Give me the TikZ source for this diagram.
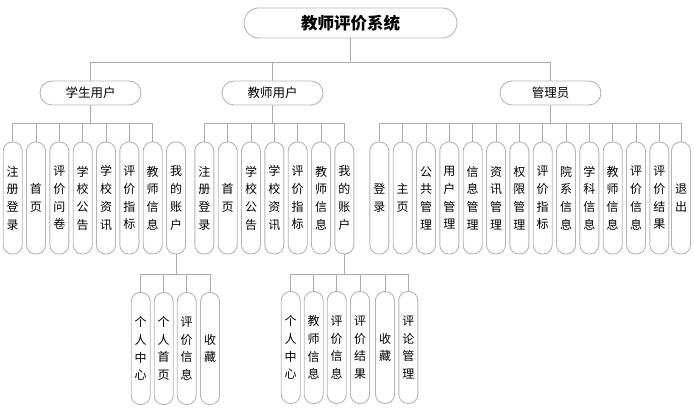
\documentclass[tikz,border=0pt]{standalone}
\usepackage{fontspec}
\setmainfont{Noto Sans CJK SC}
\usepackage{tikz}
\definecolor{linegray}{HTML}{ABABAB}
\definecolor{boxgray}{HTML}{B4B4B4}

\begin{document}
\begin{tikzpicture}[x=1pt,y=-1pt,
      rootbox/.style={rectangle,draw=boxgray,line width=0.9pt,rounded corners=15pt,
                  minimum width=213pt,minimum height=30pt,
                  font=\fontsize{16.5}{18}\selectfont\bfseries},
      rolebox/.style={rectangle,draw=boxgray,line width=0.9pt,rounded corners=12pt,
                  minimum width=101pt,minimum height=24pt,
                  font=\fontsize{12.5}{14}\selectfont},
      leaf/.style={rectangle,draw=boxgray,line width=0.9pt,rounded corners=9pt,
                  minimum width=19pt,minimum height=112pt,inner sep=0pt,
                  align=center,font=\fontsize{12}{17.7}\selectfont},
      link/.style={draw=linegray,line width=0.9pt}]
    \useasboundingbox (0,0) rectangle (694,411);
    %% ── Root and roles ───────────────────────────────────────
    \node[rootbox] (root) at (350.5,23)  {教师评价系统};
    \node[rolebox] (stu)  at (90.5,93)   {学生用户};
    \node[rolebox] (tea)  at (272.5,93)  {教师用户};
    \node[rolebox] (adm)  at (550.5,93)  {管理员};
    %% ── Student leaves ───────────────────────────────────────
    \node[leaf] (s1) at (12.7,198)  {注\\册\\登\\录};
    \node[leaf] (s2) at (36,198)    {首\\页};
    \node[leaf] (s3) at (59.3,198)  {评\\价\\问\\卷};
    \node[leaf] (s4) at (82.7,198)  {学\\校\\公\\告};
    \node[leaf] (s5) at (106,198)   {学\\校\\资\\讯};
    \node[leaf] (s6) at (129.3,198) {评\\价\\指\\标};
    \node[leaf] (s7) at (152.7,198) {教\\师\\信\\息};
    \node[leaf] (s8) at (176,198)   {我\\的\\账\\户};
    %% ── Teacher leaves ───────────────────────────────────────
    \node[leaf] (t1) at (204.3,198) {注\\册\\登\\录};
    \node[leaf] (t2) at (227.7,198) {首\\页};
    \node[leaf] (t3) at (251,198)   {学\\校\\公\\告};
    \node[leaf] (t4) at (274.3,198) {学\\校\\资\\讯};
    \node[leaf] (t5) at (297.7,198) {评\\价\\指\\标};
    \node[leaf] (t6) at (321,198)   {教\\师\\信\\息};
    \node[leaf] (t7) at (344.3,198) {我\\的\\账\\户};
    %% ── Admin leaves ─────────────────────────────────────────
    \node[leaf] (a1)  at (379.3,198) {登\\录};
    \node[leaf] (a2)  at (402.7,198) {主\\页};
    \node[leaf] (a3)  at (426,198)   {公\\共\\管\\理};
    \node[leaf] (a4)  at (449.3,198) {用\\户\\管\\理};
    \node[leaf] (a5)  at (472.7,198) {信\\息\\管\\理};
    \node[leaf] (a6)  at (496,198)   {资\\讯\\管\\理};
    \node[leaf] (a7)  at (519.3,198) {权\\限\\管\\理};
    \node[leaf] (a8)  at (542.7,198) {评\\价\\指\\标};
    \node[leaf] (a9)  at (566,198)   {院\\系\\信\\息};
    \node[leaf] (a10) at (589.3,198) {学\\科\\信\\息};
    \node[leaf] (a11) at (612.7,198) {教\\师\\信\\息};
    \node[leaf] (a12) at (636,198)   {评\\价\\信\\息};
    \node[leaf] (a13) at (659.3,198) {评\\价\\结\\果};
    \node[leaf] (a14) at (681,198)   {退\\出};
    %% ── Account sub-leaves ───────────────────────────────────
    \node[leaf] (sm1) at (140.7,348.5) {个\\人\\中\\心};
    \node[leaf] (sm2) at (163.7,348.5) {个\\人\\首\\页};
    \node[leaf] (sm3) at (186.7,348.5) {评\\价\\信\\息};
    \node[leaf] (sm4) at (210,348.5)   {收\\藏};
    \node[leaf] (tm1) at (290.7,347.5) {个\\人\\中\\心};
    \node[leaf] (tm2) at (313.7,347.5) {教\\师\\信\\息};
    \node[leaf] (tm3) at (336.7,347.5) {评\\价\\信\\息};
    \node[leaf] (tm4) at (360,347.5)   {评\\价\\结\\果};
    \node[leaf] (tm5) at (385,347.5)   {收\\藏};
    \node[leaf] (tm6) at (408.3,347.5) {评\\论\\管\\理};
    %% ── Bar levels ───────────────────────────────────────────
    \coordinate (topbar)  at (0,62);
    \coordinate (leafbar) at (0,123);
    \coordinate (subbar)  at (0,274.3);
    %% ── Connectors ───────────────────────────────────────────
    \foreach \c in {stu,tea,adm}
      \draw[link] (root.south) |- (topbar -| \c) -- (\c.north);
    \foreach \i in {1,...,7}
      \draw[link] (stu.south) |- (leafbar -| s\i) -- (s\i.north);
    \foreach \i in {1,...,7}
      \draw[link] (tea.south) |- (leafbar -| t\i) -- (t\i.north);
    \foreach \i in {1,...,14}
      \draw[link] (adm.south) |- (leafbar -| a\i) -- (a\i.north);
    \foreach \i in {1,...,4}
      \draw[link] (s8.south) |- (subbar -| sm\i) -- (sm\i.north);
    \foreach \i in {1,...,6}
      \draw[link] (t7.south) |- (subbar -| tm\i) -- (tm\i.north);
  \end{tikzpicture}
\end{document}
